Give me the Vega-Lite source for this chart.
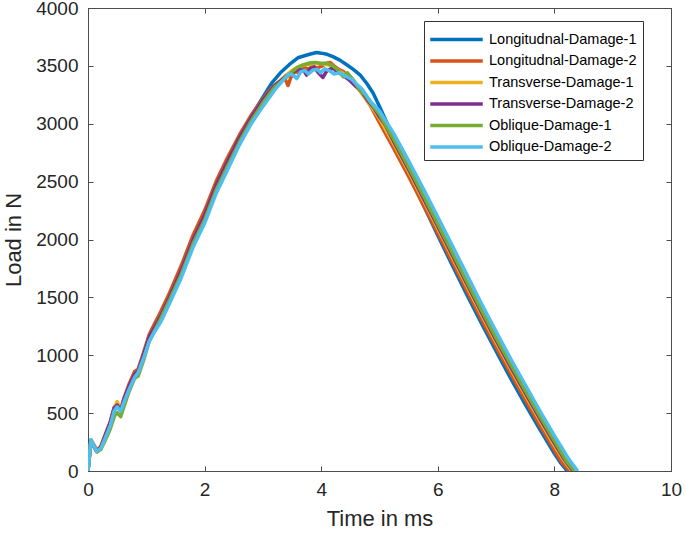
{
  "$schema": "https://vega.github.io/schema/vega-lite/v6.json",
  "width": 583,
  "height": 463,
  "autosize": {"type": "none"},
  "padding": {"left": 88, "top": 8, "right": 14, "bottom": 66},
  "config": {
    "view": {"stroke": "#4d4d4d", "strokeWidth": 1},
    "font": "Liberation Sans",
    "axis": {
      "grid": false,
      "domainColor": "#4d4d4d",
      "tickColor": "#4d4d4d",
      "labelColor": "#262626",
      "titleColor": "#262626",
      "labelFont": "Liberation Sans",
      "titleFont": "Liberation Sans",
      "labelFontSize": 19,
      "titleFontSize": 22,
      "titleFontWeight": "normal",
      "tickSize": -5,
      "labelFlush": false,
      "labelOverlap": false,
      "format": "d"
    }
  },
  "datasets": {
    "load": [
      {"series": "Longitudnal-Damage-1", "time": 0, "load": 0},
      {"series": "Longitudnal-Damage-1", "time": 0.05, "load": 260},
      {"series": "Longitudnal-Damage-1", "time": 0.1, "load": 220},
      {"series": "Longitudnal-Damage-1", "time": 0.16, "load": 170},
      {"series": "Longitudnal-Damage-1", "time": 0.22, "load": 205},
      {"series": "Longitudnal-Damage-1", "time": 0.3, "load": 305},
      {"series": "Longitudnal-Damage-1", "time": 0.38, "load": 410},
      {"series": "Longitudnal-Damage-1", "time": 0.45, "load": 545},
      {"series": "Longitudnal-Damage-1", "time": 0.5, "load": 560},
      {"series": "Longitudnal-Damage-1", "time": 0.56, "load": 525},
      {"series": "Longitudnal-Damage-1", "time": 0.62, "load": 620},
      {"series": "Longitudnal-Damage-1", "time": 0.7, "load": 725},
      {"series": "Longitudnal-Damage-1", "time": 0.8, "load": 835},
      {"series": "Longitudnal-Damage-1", "time": 0.86, "load": 865},
      {"series": "Longitudnal-Damage-1", "time": 0.95, "load": 995},
      {"series": "Longitudnal-Damage-1", "time": 1.05, "load": 1150},
      {"series": "Longitudnal-Damage-1", "time": 1.15, "load": 1250},
      {"series": "Longitudnal-Damage-1", "time": 1.25, "load": 1350},
      {"series": "Longitudnal-Damage-1", "time": 1.4, "load": 1505},
      {"series": "Longitudnal-Damage-1", "time": 1.6, "load": 1735},
      {"series": "Longitudnal-Damage-1", "time": 1.8, "load": 1990},
      {"series": "Longitudnal-Damage-1", "time": 2.0, "load": 2200},
      {"series": "Longitudnal-Damage-1", "time": 2.2, "load": 2455},
      {"series": "Longitudnal-Damage-1", "time": 2.4, "load": 2670},
      {"series": "Longitudnal-Damage-1", "time": 2.6, "load": 2875},
      {"series": "Longitudnal-Damage-1", "time": 2.8, "load": 3065},
      {"series": "Longitudnal-Damage-1", "time": 3.0, "load": 3230},
      {"series": "Longitudnal-Damage-1", "time": 3.15, "load": 3350},
      {"series": "Longitudnal-Damage-1", "time": 3.3, "load": 3440},
      {"series": "Longitudnal-Damage-1", "time": 3.45, "load": 3510},
      {"series": "Longitudnal-Damage-1", "time": 3.6, "load": 3570},
      {"series": "Longitudnal-Damage-1", "time": 3.7, "load": 3585},
      {"series": "Longitudnal-Damage-1", "time": 3.8, "load": 3600},
      {"series": "Longitudnal-Damage-1", "time": 3.92, "load": 3615},
      {"series": "Longitudnal-Damage-1", "time": 4.0, "load": 3610},
      {"series": "Longitudnal-Damage-1", "time": 4.1, "load": 3600},
      {"series": "Longitudnal-Damage-1", "time": 4.2, "load": 3580},
      {"series": "Longitudnal-Damage-1", "time": 4.32, "load": 3550},
      {"series": "Longitudnal-Damage-1", "time": 4.45, "load": 3505},
      {"series": "Longitudnal-Damage-1", "time": 4.55, "load": 3470},
      {"series": "Longitudnal-Damage-1", "time": 4.67, "load": 3420},
      {"series": "Longitudnal-Damage-1", "time": 4.78, "load": 3350},
      {"series": "Longitudnal-Damage-1", "time": 4.89, "load": 3265},
      {"series": "Longitudnal-Damage-1", "time": 5.0, "load": 3150},
      {"series": "Longitudnal-Damage-1", "time": 5.1, "load": 3040},
      {"series": "Longitudnal-Damage-1", "time": 5.25, "load": 2860},
      {"series": "Longitudnal-Damage-1", "time": 5.5, "load": 2565},
      {"series": "Longitudnal-Damage-1", "time": 5.75, "load": 2300},
      {"series": "Longitudnal-Damage-1", "time": 6.0, "load": 2035},
      {"series": "Longitudnal-Damage-1", "time": 6.25, "load": 1775},
      {"series": "Longitudnal-Damage-1", "time": 6.5, "load": 1520},
      {"series": "Longitudnal-Damage-1", "time": 6.75, "load": 1275},
      {"series": "Longitudnal-Damage-1", "time": 7.0, "load": 1035},
      {"series": "Longitudnal-Damage-1", "time": 7.25, "load": 800},
      {"series": "Longitudnal-Damage-1", "time": 7.5, "load": 575},
      {"series": "Longitudnal-Damage-1", "time": 7.75, "load": 360},
      {"series": "Longitudnal-Damage-1", "time": 8.0, "load": 150},
      {"series": "Longitudnal-Damage-1", "time": 8.1, "load": 75},
      {"series": "Longitudnal-Damage-1", "time": 8.22, "load": 0},

      {"series": "Longitudnal-Damage-2", "time": 0, "load": 0},
      {"series": "Longitudnal-Damage-2", "time": 0.05, "load": 270},
      {"series": "Longitudnal-Damage-2", "time": 0.1, "load": 225},
      {"series": "Longitudnal-Damage-2", "time": 0.16, "load": 175},
      {"series": "Longitudnal-Damage-2", "time": 0.22, "load": 215},
      {"series": "Longitudnal-Damage-2", "time": 0.3, "load": 320},
      {"series": "Longitudnal-Damage-2", "time": 0.38, "load": 425},
      {"series": "Longitudnal-Damage-2", "time": 0.45, "load": 550},
      {"series": "Longitudnal-Damage-2", "time": 0.5, "load": 570},
      {"series": "Longitudnal-Damage-2", "time": 0.56, "load": 530},
      {"series": "Longitudnal-Damage-2", "time": 0.62, "load": 635},
      {"series": "Longitudnal-Damage-2", "time": 0.7, "load": 745},
      {"series": "Longitudnal-Damage-2", "time": 0.8, "load": 860},
      {"series": "Longitudnal-Damage-2", "time": 0.86, "load": 880},
      {"series": "Longitudnal-Damage-2", "time": 0.95, "load": 1020},
      {"series": "Longitudnal-Damage-2", "time": 1.05, "load": 1180},
      {"series": "Longitudnal-Damage-2", "time": 1.15, "load": 1280},
      {"series": "Longitudnal-Damage-2", "time": 1.25, "load": 1380},
      {"series": "Longitudnal-Damage-2", "time": 1.4, "load": 1540},
      {"series": "Longitudnal-Damage-2", "time": 1.6, "load": 1775},
      {"series": "Longitudnal-Damage-2", "time": 1.8, "load": 2035},
      {"series": "Longitudnal-Damage-2", "time": 2.0, "load": 2250},
      {"series": "Longitudnal-Damage-2", "time": 2.2, "load": 2505},
      {"series": "Longitudnal-Damage-2", "time": 2.4, "load": 2715},
      {"series": "Longitudnal-Damage-2", "time": 2.6, "load": 2905},
      {"series": "Longitudnal-Damage-2", "time": 2.8, "load": 3075},
      {"series": "Longitudnal-Damage-2", "time": 3.0, "load": 3215},
      {"series": "Longitudnal-Damage-2", "time": 3.15, "load": 3310},
      {"series": "Longitudnal-Damage-2", "time": 3.3, "load": 3370},
      {"series": "Longitudnal-Damage-2", "time": 3.38, "load": 3390},
      {"series": "Longitudnal-Damage-2", "time": 3.43, "load": 3330},
      {"series": "Longitudnal-Damage-2", "time": 3.48, "load": 3400},
      {"series": "Longitudnal-Damage-2", "time": 3.55, "load": 3450},
      {"series": "Longitudnal-Damage-2", "time": 3.62, "load": 3440},
      {"series": "Longitudnal-Damage-2", "time": 3.7, "load": 3490},
      {"series": "Longitudnal-Damage-2", "time": 3.78, "load": 3470},
      {"series": "Longitudnal-Damage-2", "time": 3.85, "load": 3500},
      {"series": "Longitudnal-Damage-2", "time": 3.92, "load": 3480},
      {"series": "Longitudnal-Damage-2", "time": 4.0, "load": 3495},
      {"series": "Longitudnal-Damage-2", "time": 4.08, "load": 3520},
      {"series": "Longitudnal-Damage-2", "time": 4.15, "load": 3530},
      {"series": "Longitudnal-Damage-2", "time": 4.22, "load": 3500},
      {"series": "Longitudnal-Damage-2", "time": 4.3, "load": 3470},
      {"series": "Longitudnal-Damage-2", "time": 4.38, "load": 3450},
      {"series": "Longitudnal-Damage-2", "time": 4.45, "load": 3420},
      {"series": "Longitudnal-Damage-2", "time": 4.55, "load": 3370},
      {"series": "Longitudnal-Damage-2", "time": 4.65, "load": 3300},
      {"series": "Longitudnal-Damage-2", "time": 4.75, "load": 3230},
      {"series": "Longitudnal-Damage-2", "time": 4.85, "load": 3150},
      {"series": "Longitudnal-Damage-2", "time": 5.0, "load": 3010},
      {"series": "Longitudnal-Damage-2", "time": 5.25, "load": 2780},
      {"series": "Longitudnal-Damage-2", "time": 5.5, "load": 2545},
      {"series": "Longitudnal-Damage-2", "time": 5.75, "load": 2300},
      {"series": "Longitudnal-Damage-2", "time": 6.0, "load": 2055},
      {"series": "Longitudnal-Damage-2", "time": 6.25, "load": 1805},
      {"series": "Longitudnal-Damage-2", "time": 6.5, "load": 1555},
      {"series": "Longitudnal-Damage-2", "time": 6.75, "load": 1310},
      {"series": "Longitudnal-Damage-2", "time": 7.0, "load": 1070},
      {"series": "Longitudnal-Damage-2", "time": 7.25, "load": 840},
      {"series": "Longitudnal-Damage-2", "time": 7.5, "load": 615},
      {"series": "Longitudnal-Damage-2", "time": 7.75, "load": 395},
      {"series": "Longitudnal-Damage-2", "time": 8.0, "load": 180},
      {"series": "Longitudnal-Damage-2", "time": 8.12, "load": 80},
      {"series": "Longitudnal-Damage-2", "time": 8.26, "load": 0},

      {"series": "Transverse-Damage-1", "time": 0, "load": 0},
      {"series": "Transverse-Damage-1", "time": 0.05, "load": 265},
      {"series": "Transverse-Damage-1", "time": 0.1, "load": 215},
      {"series": "Transverse-Damage-1", "time": 0.15, "load": 165},
      {"series": "Transverse-Damage-1", "time": 0.22, "load": 200},
      {"series": "Transverse-Damage-1", "time": 0.3, "load": 300},
      {"series": "Transverse-Damage-1", "time": 0.38, "load": 400},
      {"series": "Transverse-Damage-1", "time": 0.45, "load": 540},
      {"series": "Transverse-Damage-1", "time": 0.5, "load": 600},
      {"series": "Transverse-Damage-1", "time": 0.56, "load": 530},
      {"series": "Transverse-Damage-1", "time": 0.62, "load": 615},
      {"series": "Transverse-Damage-1", "time": 0.7, "load": 720},
      {"series": "Transverse-Damage-1", "time": 0.8, "load": 830},
      {"series": "Transverse-Damage-1", "time": 0.86, "load": 860},
      {"series": "Transverse-Damage-1", "time": 0.95, "load": 990},
      {"series": "Transverse-Damage-1", "time": 1.05, "load": 1150},
      {"series": "Transverse-Damage-1", "time": 1.15, "load": 1245},
      {"series": "Transverse-Damage-1", "time": 1.25, "load": 1345},
      {"series": "Transverse-Damage-1", "time": 1.4, "load": 1500},
      {"series": "Transverse-Damage-1", "time": 1.6, "load": 1730},
      {"series": "Transverse-Damage-1", "time": 1.8, "load": 1990},
      {"series": "Transverse-Damage-1", "time": 2.0, "load": 2200},
      {"series": "Transverse-Damage-1", "time": 2.2, "load": 2460},
      {"series": "Transverse-Damage-1", "time": 2.4, "load": 2670},
      {"series": "Transverse-Damage-1", "time": 2.6, "load": 2870},
      {"series": "Transverse-Damage-1", "time": 2.8, "load": 3050},
      {"series": "Transverse-Damage-1", "time": 3.0, "load": 3200},
      {"series": "Transverse-Damage-1", "time": 3.2, "load": 3330},
      {"series": "Transverse-Damage-1", "time": 3.4, "load": 3420},
      {"series": "Transverse-Damage-1", "time": 3.5, "load": 3460},
      {"series": "Transverse-Damage-1", "time": 3.6, "load": 3490},
      {"series": "Transverse-Damage-1", "time": 3.7, "load": 3505},
      {"series": "Transverse-Damage-1", "time": 3.8, "load": 3515},
      {"series": "Transverse-Damage-1", "time": 3.9, "load": 3520},
      {"series": "Transverse-Damage-1", "time": 4.0, "load": 3520},
      {"series": "Transverse-Damage-1", "time": 4.1, "load": 3510},
      {"series": "Transverse-Damage-1", "time": 4.2, "load": 3490},
      {"series": "Transverse-Damage-1", "time": 4.3, "load": 3460},
      {"series": "Transverse-Damage-1", "time": 4.4, "load": 3425},
      {"series": "Transverse-Damage-1", "time": 4.5, "load": 3380},
      {"series": "Transverse-Damage-1", "time": 4.6, "load": 3330},
      {"series": "Transverse-Damage-1", "time": 4.7, "load": 3260},
      {"series": "Transverse-Damage-1", "time": 4.8, "load": 3190},
      {"series": "Transverse-Damage-1", "time": 4.9, "load": 3120},
      {"series": "Transverse-Damage-1", "time": 5.0, "load": 3045},
      {"series": "Transverse-Damage-1", "time": 5.25, "load": 2820},
      {"series": "Transverse-Damage-1", "time": 5.5, "load": 2585},
      {"series": "Transverse-Damage-1", "time": 5.75, "load": 2340},
      {"series": "Transverse-Damage-1", "time": 6.0, "load": 2095},
      {"series": "Transverse-Damage-1", "time": 6.25, "load": 1845},
      {"series": "Transverse-Damage-1", "time": 6.5, "load": 1595},
      {"series": "Transverse-Damage-1", "time": 6.75, "load": 1350},
      {"series": "Transverse-Damage-1", "time": 7.0, "load": 1110},
      {"series": "Transverse-Damage-1", "time": 7.25, "load": 880},
      {"series": "Transverse-Damage-1", "time": 7.5, "load": 655},
      {"series": "Transverse-Damage-1", "time": 7.75, "load": 435},
      {"series": "Transverse-Damage-1", "time": 8.0, "load": 220},
      {"series": "Transverse-Damage-1", "time": 8.15, "load": 100},
      {"series": "Transverse-Damage-1", "time": 8.3, "load": 0},

      {"series": "Transverse-Damage-2", "time": 0, "load": 0},
      {"series": "Transverse-Damage-2", "time": 0.05, "load": 260},
      {"series": "Transverse-Damage-2", "time": 0.1, "load": 210},
      {"series": "Transverse-Damage-2", "time": 0.15, "load": 170},
      {"series": "Transverse-Damage-2", "time": 0.22, "load": 205},
      {"series": "Transverse-Damage-2", "time": 0.3, "load": 310},
      {"series": "Transverse-Damage-2", "time": 0.38, "load": 415},
      {"series": "Transverse-Damage-2", "time": 0.45, "load": 545},
      {"series": "Transverse-Damage-2", "time": 0.5, "load": 570},
      {"series": "Transverse-Damage-2", "time": 0.56, "load": 525},
      {"series": "Transverse-Damage-2", "time": 0.62, "load": 625},
      {"series": "Transverse-Damage-2", "time": 0.7, "load": 730},
      {"series": "Transverse-Damage-2", "time": 0.8, "load": 835},
      {"series": "Transverse-Damage-2", "time": 0.86, "load": 865},
      {"series": "Transverse-Damage-2", "time": 0.95, "load": 1000},
      {"series": "Transverse-Damage-2", "time": 1.05, "load": 1160},
      {"series": "Transverse-Damage-2", "time": 1.15, "load": 1250},
      {"series": "Transverse-Damage-2", "time": 1.25, "load": 1345},
      {"series": "Transverse-Damage-2", "time": 1.4, "load": 1505},
      {"series": "Transverse-Damage-2", "time": 1.6, "load": 1735},
      {"series": "Transverse-Damage-2", "time": 1.8, "load": 1995},
      {"series": "Transverse-Damage-2", "time": 2.0, "load": 2210},
      {"series": "Transverse-Damage-2", "time": 2.2, "load": 2470},
      {"series": "Transverse-Damage-2", "time": 2.4, "load": 2680},
      {"series": "Transverse-Damage-2", "time": 2.6, "load": 2880},
      {"series": "Transverse-Damage-2", "time": 2.8, "load": 3055},
      {"series": "Transverse-Damage-2", "time": 3.0, "load": 3205},
      {"series": "Transverse-Damage-2", "time": 3.2, "load": 3330},
      {"series": "Transverse-Damage-2", "time": 3.4, "load": 3410},
      {"series": "Transverse-Damage-2", "time": 3.5, "load": 3440},
      {"series": "Transverse-Damage-2", "time": 3.6, "load": 3470},
      {"series": "Transverse-Damage-2", "time": 3.7, "load": 3460},
      {"series": "Transverse-Damage-2", "time": 3.75, "load": 3420},
      {"series": "Transverse-Damage-2", "time": 3.8, "load": 3470},
      {"series": "Transverse-Damage-2", "time": 3.88, "load": 3490},
      {"series": "Transverse-Damage-2", "time": 3.95, "load": 3440},
      {"series": "Transverse-Damage-2", "time": 4.03, "load": 3400},
      {"series": "Transverse-Damage-2", "time": 4.1, "load": 3460},
      {"series": "Transverse-Damage-2", "time": 4.2, "load": 3480},
      {"series": "Transverse-Damage-2", "time": 4.3, "load": 3440},
      {"series": "Transverse-Damage-2", "time": 4.4, "load": 3410},
      {"series": "Transverse-Damage-2", "time": 4.5, "load": 3370},
      {"series": "Transverse-Damage-2", "time": 4.6, "load": 3320},
      {"series": "Transverse-Damage-2", "time": 4.7, "load": 3275},
      {"series": "Transverse-Damage-2", "time": 4.8, "load": 3200},
      {"series": "Transverse-Damage-2", "time": 4.9, "load": 3140},
      {"series": "Transverse-Damage-2", "time": 5.0, "load": 3060},
      {"series": "Transverse-Damage-2", "time": 5.1, "load": 2990},
      {"series": "Transverse-Damage-2", "time": 5.25, "load": 2840},
      {"series": "Transverse-Damage-2", "time": 5.5, "load": 2605},
      {"series": "Transverse-Damage-2", "time": 5.75, "load": 2360},
      {"series": "Transverse-Damage-2", "time": 6.0, "load": 2115},
      {"series": "Transverse-Damage-2", "time": 6.25, "load": 1865},
      {"series": "Transverse-Damage-2", "time": 6.5, "load": 1615},
      {"series": "Transverse-Damage-2", "time": 6.75, "load": 1370},
      {"series": "Transverse-Damage-2", "time": 7.0, "load": 1130},
      {"series": "Transverse-Damage-2", "time": 7.25, "load": 900},
      {"series": "Transverse-Damage-2", "time": 7.5, "load": 675},
      {"series": "Transverse-Damage-2", "time": 7.75, "load": 455},
      {"series": "Transverse-Damage-2", "time": 8.0, "load": 240},
      {"series": "Transverse-Damage-2", "time": 8.17, "load": 100},
      {"series": "Transverse-Damage-2", "time": 8.32, "load": 0},

      {"series": "Oblique-Damage-1", "time": 0, "load": 0},
      {"series": "Oblique-Damage-1", "time": 0.05, "load": 255},
      {"series": "Oblique-Damage-1", "time": 0.1, "load": 215},
      {"series": "Oblique-Damage-1", "time": 0.16, "load": 165},
      {"series": "Oblique-Damage-1", "time": 0.22, "load": 185},
      {"series": "Oblique-Damage-1", "time": 0.3, "load": 270},
      {"series": "Oblique-Damage-1", "time": 0.38, "load": 360},
      {"series": "Oblique-Damage-1", "time": 0.45, "load": 470},
      {"series": "Oblique-Damage-1", "time": 0.5, "load": 505},
      {"series": "Oblique-Damage-1", "time": 0.56, "load": 470},
      {"series": "Oblique-Damage-1", "time": 0.62, "load": 560},
      {"series": "Oblique-Damage-1", "time": 0.7, "load": 680},
      {"series": "Oblique-Damage-1", "time": 0.8, "load": 800},
      {"series": "Oblique-Damage-1", "time": 0.86, "load": 820},
      {"series": "Oblique-Damage-1", "time": 0.95, "load": 950},
      {"series": "Oblique-Damage-1", "time": 1.05, "load": 1120},
      {"series": "Oblique-Damage-1", "time": 1.15, "load": 1220},
      {"series": "Oblique-Damage-1", "time": 1.25, "load": 1320},
      {"series": "Oblique-Damage-1", "time": 1.4, "load": 1480},
      {"series": "Oblique-Damage-1", "time": 1.6, "load": 1700},
      {"series": "Oblique-Damage-1", "time": 1.8, "load": 1960},
      {"series": "Oblique-Damage-1", "time": 2.0, "load": 2170},
      {"series": "Oblique-Damage-1", "time": 2.2, "load": 2430},
      {"series": "Oblique-Damage-1", "time": 2.4, "load": 2640},
      {"series": "Oblique-Damage-1", "time": 2.6, "load": 2845},
      {"series": "Oblique-Damage-1", "time": 2.8, "load": 3025},
      {"series": "Oblique-Damage-1", "time": 3.0, "load": 3180},
      {"series": "Oblique-Damage-1", "time": 3.2, "load": 3315},
      {"series": "Oblique-Damage-1", "time": 3.4, "load": 3400},
      {"series": "Oblique-Damage-1", "time": 3.5, "load": 3450},
      {"series": "Oblique-Damage-1", "time": 3.6, "load": 3490},
      {"series": "Oblique-Damage-1", "time": 3.7, "load": 3510},
      {"series": "Oblique-Damage-1", "time": 3.8, "load": 3525},
      {"series": "Oblique-Damage-1", "time": 3.9, "load": 3530},
      {"series": "Oblique-Damage-1", "time": 4.0, "load": 3520},
      {"series": "Oblique-Damage-1", "time": 4.1, "load": 3525},
      {"series": "Oblique-Damage-1", "time": 4.2, "load": 3500},
      {"series": "Oblique-Damage-1", "time": 4.3, "load": 3460},
      {"series": "Oblique-Damage-1", "time": 4.38, "load": 3405},
      {"series": "Oblique-Damage-1", "time": 4.45, "load": 3440},
      {"series": "Oblique-Damage-1", "time": 4.55, "load": 3380},
      {"series": "Oblique-Damage-1", "time": 4.65, "load": 3300},
      {"series": "Oblique-Damage-1", "time": 4.75, "load": 3250},
      {"series": "Oblique-Damage-1", "time": 4.85, "load": 3180},
      {"series": "Oblique-Damage-1", "time": 5.0, "load": 3080},
      {"series": "Oblique-Damage-1", "time": 5.25, "load": 2860},
      {"series": "Oblique-Damage-1", "time": 5.5, "load": 2625},
      {"series": "Oblique-Damage-1", "time": 5.75, "load": 2380},
      {"series": "Oblique-Damage-1", "time": 6.0, "load": 2135},
      {"series": "Oblique-Damage-1", "time": 6.25, "load": 1885},
      {"series": "Oblique-Damage-1", "time": 6.5, "load": 1635},
      {"series": "Oblique-Damage-1", "time": 6.75, "load": 1390},
      {"series": "Oblique-Damage-1", "time": 7.0, "load": 1150},
      {"series": "Oblique-Damage-1", "time": 7.25, "load": 920},
      {"series": "Oblique-Damage-1", "time": 7.5, "load": 695},
      {"series": "Oblique-Damage-1", "time": 7.75, "load": 475},
      {"series": "Oblique-Damage-1", "time": 8.0, "load": 260},
      {"series": "Oblique-Damage-1", "time": 8.2, "load": 90},
      {"series": "Oblique-Damage-1", "time": 8.34, "load": 0},

      {"series": "Oblique-Damage-2", "time": 0, "load": 0},
      {"series": "Oblique-Damage-2", "time": 0.05, "load": 270},
      {"series": "Oblique-Damage-2", "time": 0.1, "load": 215},
      {"series": "Oblique-Damage-2", "time": 0.15, "load": 170},
      {"series": "Oblique-Damage-2", "time": 0.22, "load": 195},
      {"series": "Oblique-Damage-2", "time": 0.3, "load": 290},
      {"series": "Oblique-Damage-2", "time": 0.38, "load": 390},
      {"series": "Oblique-Damage-2", "time": 0.45, "load": 520},
      {"series": "Oblique-Damage-2", "time": 0.5, "load": 555},
      {"series": "Oblique-Damage-2", "time": 0.56, "load": 515},
      {"series": "Oblique-Damage-2", "time": 0.62, "load": 600},
      {"series": "Oblique-Damage-2", "time": 0.7, "load": 700},
      {"series": "Oblique-Damage-2", "time": 0.8, "load": 810},
      {"series": "Oblique-Damage-2", "time": 0.86, "load": 850},
      {"series": "Oblique-Damage-2", "time": 0.95, "load": 970},
      {"series": "Oblique-Damage-2", "time": 1.05, "load": 1120},
      {"series": "Oblique-Damage-2", "time": 1.15, "load": 1210},
      {"series": "Oblique-Damage-2", "time": 1.25, "load": 1290},
      {"series": "Oblique-Damage-2", "time": 1.4, "load": 1450},
      {"series": "Oblique-Damage-2", "time": 1.6, "load": 1670},
      {"series": "Oblique-Damage-2", "time": 1.8, "load": 1930},
      {"series": "Oblique-Damage-2", "time": 2.0, "load": 2140},
      {"series": "Oblique-Damage-2", "time": 2.2, "load": 2400},
      {"series": "Oblique-Damage-2", "time": 2.4, "load": 2610},
      {"series": "Oblique-Damage-2", "time": 2.6, "load": 2820},
      {"series": "Oblique-Damage-2", "time": 2.8, "load": 3000},
      {"series": "Oblique-Damage-2", "time": 3.0, "load": 3150},
      {"series": "Oblique-Damage-2", "time": 3.2, "load": 3290},
      {"series": "Oblique-Damage-2", "time": 3.35, "load": 3380},
      {"series": "Oblique-Damage-2", "time": 3.45, "load": 3430},
      {"series": "Oblique-Damage-2", "time": 3.52, "load": 3420},
      {"series": "Oblique-Damage-2", "time": 3.58, "load": 3390},
      {"series": "Oblique-Damage-2", "time": 3.65, "load": 3450},
      {"series": "Oblique-Damage-2", "time": 3.72, "load": 3460},
      {"series": "Oblique-Damage-2", "time": 3.78, "load": 3430},
      {"series": "Oblique-Damage-2", "time": 3.86, "load": 3465},
      {"series": "Oblique-Damage-2", "time": 3.93, "load": 3470},
      {"series": "Oblique-Damage-2", "time": 3.99, "load": 3440},
      {"series": "Oblique-Damage-2", "time": 4.06, "load": 3475},
      {"series": "Oblique-Damage-2", "time": 4.15, "load": 3455},
      {"series": "Oblique-Damage-2", "time": 4.22, "load": 3430},
      {"series": "Oblique-Damage-2", "time": 4.32, "load": 3440},
      {"series": "Oblique-Damage-2", "time": 4.42, "load": 3410},
      {"series": "Oblique-Damage-2", "time": 4.52, "load": 3385},
      {"series": "Oblique-Damage-2", "time": 4.6, "load": 3345},
      {"series": "Oblique-Damage-2", "time": 4.7, "load": 3300},
      {"series": "Oblique-Damage-2", "time": 4.85, "load": 3190},
      {"series": "Oblique-Damage-2", "time": 5.0, "load": 3110},
      {"series": "Oblique-Damage-2", "time": 5.25, "load": 2910},
      {"series": "Oblique-Damage-2", "time": 5.5, "load": 2680},
      {"series": "Oblique-Damage-2", "time": 5.75, "load": 2440},
      {"series": "Oblique-Damage-2", "time": 6.0, "load": 2195},
      {"series": "Oblique-Damage-2", "time": 6.25, "load": 1945},
      {"series": "Oblique-Damage-2", "time": 6.5, "load": 1695},
      {"series": "Oblique-Damage-2", "time": 6.75, "load": 1445},
      {"series": "Oblique-Damage-2", "time": 7.0, "load": 1205},
      {"series": "Oblique-Damage-2", "time": 7.25, "load": 970},
      {"series": "Oblique-Damage-2", "time": 7.5, "load": 745},
      {"series": "Oblique-Damage-2", "time": 7.75, "load": 520},
      {"series": "Oblique-Damage-2", "time": 8.0, "load": 305},
      {"series": "Oblique-Damage-2", "time": 8.25, "load": 100},
      {"series": "Oblique-Damage-2", "time": 8.4, "load": 0}
    ]
  },
  "layer": [
    {
      "data": {"name": "load"},
      "mark": {"type": "line", "strokeWidth": 3.5, "strokeJoin": "round", "clip": true},
      "encoding": {
        "x": {
          "field": "time",
          "type": "quantitative",
          "scale": {"domain": [0, 10], "nice": false},
          "axis": {"title": "Time in ms", "values": [0, 2, 4, 6, 8, 10], "labelPadding": 14, "titlePadding": 9}
        },
        "y": {
          "field": "load",
          "type": "quantitative",
          "scale": {"domain": [0, 4000], "nice": false},
          "axis": {"title": "Load in N", "values": [0, 500, 1000, 1500, 2000, 2500, 3000, 3500, 4000], "labelPadding": 15, "titlePadding": 10}
        },
        "color": {
          "field": "series",
          "type": "nominal",
          "sort": null,
          "scale": {
            "domain": ["Longitudnal-Damage-1", "Longitudnal-Damage-2", "Transverse-Damage-1", "Transverse-Damage-2", "Oblique-Damage-1", "Oblique-Damage-2"],
            "range": ["#0072BD", "#D95319", "#EDB120", "#7E2F8E", "#77AC30", "#4DBEEE"]
          },
          "legend": {
            "title": null,
            "orient": "none",
            "legendX": 336,
            "legendY": 13,
            "strokeColor": "#333333",
            "fillColor": "#ffffff",
            "padding": 6,
            "symbolType": "M-2.5,0H2.5",
            "symbolSize": 441,
            "symbolStrokeWidth": 3.5,
            "symbolOffset": 14,
            "labelOffset": 20,
            "labelLimit": 240,
            "labelFont": "Liberation Sans",
            "labelFontSize": 14.5,
            "labelColor": "#000000",
            "rowPadding": 1.5
          }
        }
      }
    },
    {
      "data": {"name": "load"},
      "mark": {"type": "point", "opacity": 0},
      "encoding": {
        "x": {
          "field": "time",
          "type": "quantitative",
          "scale": {"domain": [0, 10], "nice": false},
          "axis": {"orient": "top", "title": null, "labels": false, "values": [0, 2, 4, 6, 8, 10]}
        },
        "y": {
          "field": "load",
          "type": "quantitative",
          "scale": {"domain": [0, 4000], "nice": false},
          "axis": {"orient": "right", "title": null, "labels": false, "values": [0, 500, 1000, 1500, 2000, 2500, 3000, 3500, 4000]}
        }
      }
    }
  ],
  "resolve": {"axis": {"x": "independent", "y": "independent"}}
}
